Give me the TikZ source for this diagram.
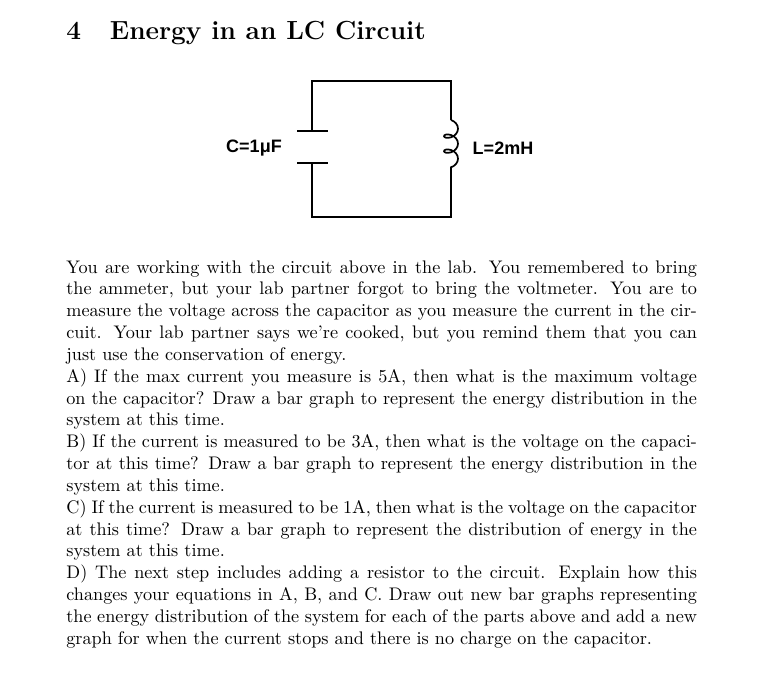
\documentclass[tikz,border=0pt]{standalone}
\usepackage{fontspec}
\newfontfamily\labfont{Liberation Sans}
\usetikzlibrary{decorations.pathmorphing}
\tikzset{wire/.style={line width=1.8pt},
 lab/.style={font=\labfont\bfseries\fontsize{18}{21}\selectfont, inner sep=0pt}}
\begin{document}
\begin{tikzpicture}[x=1pt,y=-1pt]
\useasboundingbox (0,0) rectangle (781,682);
\node[anchor=base west, inner sep=0pt, scale=1.82, transform shape, font=\Large\bfseries] (title) at (66,40) {4\hspace{1.1em}Energy in an LC Circuit};
% circuit
\coordinate (tl) at (312,81); \coordinate (tr) at (451,81);
\coordinate (bl) at (312,217); \coordinate (br) at (451,217);
\coordinate (c1) at (312,131); \coordinate (c2) at (312,163);
\coordinate (l1) at (451,120); \coordinate (l2) at (451,179);
\draw[wire] (c1) -- (tl) -- (tr) -- (l1);
\draw[wire] (c2) -- (bl) -- (br) -- (l2);
\draw[wire] ([xshift=-15pt]c1) -- ([xshift=16pt]c1);
\draw[wire] ([xshift=-15pt]c2) -- ([xshift=16pt]c2);
\draw[line width=1.7pt, decorate, decoration={coil, aspect=0.7, segment length=15pt, amplitude=7pt}] (l1) -- (l2);
\node[lab] (clab) at (254,148) {C=1μF};
\node[lab] (llab) at (503,148) {L=2mH};
% text
\node[anchor=base west, inner sep=0pt, scale=1.82, transform shape] (body) at (66,273) {\parbox[t]{346.5pt}{\normalsize\setlength{\parindent}{0pt}%
You are working with the circuit above in the lab. You remembered to bring\linebreak
the ammeter, but your lab partner forgot to bring the voltmeter. You are to\linebreak
measure the voltage across the capacitor as you measure the current in the cir-\linebreak
cuit. Your lab partner says we're cooked, but you remind them that you can\linebreak
just use the conservation of energy.\par
A) If the max current you measure is 5A, then what is the maximum voltage\linebreak
on the capacitor? Draw a bar graph to represent the energy distribution in the\linebreak
system at this time.\par
B) If the current is measured to be 3A, then what is the voltage on the capaci-\linebreak
tor at this time? Draw a bar graph to represent the energy distribution in the\linebreak
system at this time.\par
C) If the current is measured to be 1A, then what is the voltage on the capacitor\linebreak
at this time? Draw a bar graph to represent the distribution of energy in the\linebreak
system at this time.\par
D) The next step includes adding a resistor to the circuit. Explain how this\linebreak
changes your equations in A, B, and C. Draw out new bar graphs representing\linebreak
the energy distribution of the system for each of the parts above and add a new\linebreak
graph for when the current stops and there is no charge on the capacitor.}};
\end{tikzpicture}
\end{document}
